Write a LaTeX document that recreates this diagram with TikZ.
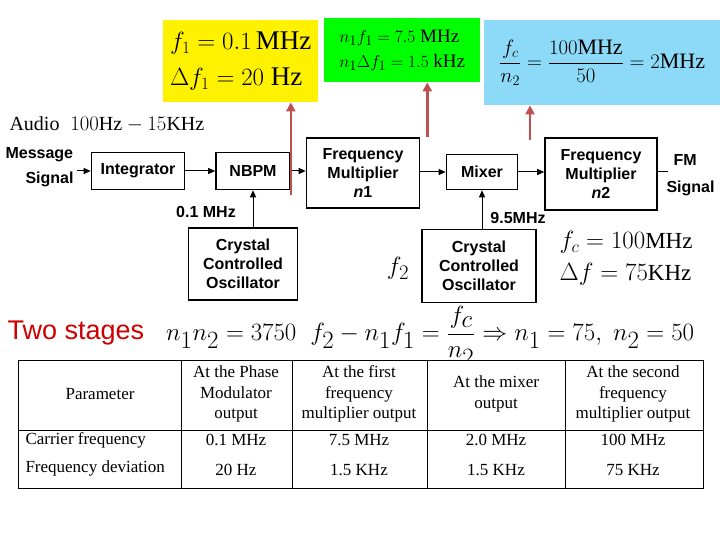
\documentclass[tikz,border=0pt]{standalone}
\usepackage{amsmath}
\usepackage{fontspec}
\newfontfamily\arialfont{Liberation Sans}
\setmainfont{Liberation Serif}
\usetikzlibrary{arrows.meta}
\definecolor{arrowred}{RGB}{190,80,80}
\newcommand{\fsz}[1]{\fontsize{#1}{1.2\dimexpr#1pt\relax}\selectfont}
\tikzset{
  blk/.style={draw, line width=1.6pt, font=\arialfont\bfseries\fsz{16}, align=center, inner sep=2pt},
  sig/.style={-{Triangle[length=7pt,width=6pt]}, line width=1pt},
  lbl/.style={font=\arialfont\bfseries\fsz{16}, align=left},
  up/.style={-{Triangle[length=9pt,width=9pt]}, line width=2.5pt, arrowred},
  cell/.style={font=\fsz{17}, align=center}
}
\begin{document}
\begin{tikzpicture}[x=1pt, y=-1pt]
        \useasboundingbox (0,0) rectangle (720,540);
        % Annotation boxes
        \node[fill=yellow, minimum width=155pt, minimum height=82pt, anchor=north west, align=left, font=\fsz{27}, inner sep=1pt] (Y) at (163,20)
          {$f_1 = 0.1\,\mathrm{MHz}$\\[4pt] $\Delta f_1 = 20\ \mathrm{Hz}$};
        \node[fill=green, minimum width=156pt, minimum height=64pt, anchor=north west, align=left, font=\fsz{19}, inner sep=1pt] (G) at (324,18)
          {$n_1 f_1 = 7.5\ \mathrm{MHz}$\\[2pt] $n_1\Delta f_1 = 1.5\ \mathrm{kHz}$};
        \node[fill=cyan!45, minimum width=236pt, minimum height=85pt, anchor=north west, font=\fsz{22}, inner sep=0pt] (C) at (484,20)
          {$\dfrac{f_c}{n_2} = \dfrac{100\mathrm{MHz}}{50} = 2\mathrm{MHz}$};
        \node[anchor=west, font=\fsz{20}] (AU) at (6,124) {Audio $\;100\mathrm{Hz} - 15\mathrm{KHz}$};

        % Blocks
        \node[lbl, anchor=west] (MS) at (2,167) {Message\\[6pt]\hspace*{20pt}Signal};
        \node[blk, minimum width=93pt, minimum height=37pt] (INT) at (138,171) {Integrator};
        \node[blk, minimum width=74pt, minimum height=37pt] (NB) at (253,171) {NBPM};
        \node[blk, minimum width=113pt, minimum height=70pt] (FM1) at (363,173) {Frequency\\Multiplier\\\itshape n\upshape 1};
        \node[blk, minimum width=71pt, minimum height=35pt] (MX) at (482,172) {Mixer};
        \node[blk, minimum width=112pt, minimum height=72pt] (FM2) at (601,174) {Frequency\\Multiplier\\\itshape n\upshape 2};
        \node[lbl, anchor=west] (FS) at (663,175) {\hspace*{7pt}FM\\[8pt]Signal};
        \node[blk, minimum width=109pt, minimum height=72pt] (XO1) at (243,264) {Crystal\\Controlled\\Oscillator};
        \node[blk, minimum width=114pt, minimum height=73pt] (XO2) at (479,266) {Crystal\\Controlled\\Oscillator};
        \node[lbl] (F01) at (206,212) {0.1 MHz};
        \node[lbl] (F95) at (518,218) {9.5MHz};
        \node[font=\fsz{32}] (F2) at (398,268) {$f_2$};
        \node[anchor=west, font=\fsz{23}, align=left] (FC) at (556,258) {$f_c = 100\mathrm{MHz}$\\[4pt] $\Delta f = 75\mathrm{KHz}$};
        \coordinate (OUT) at (668,172);

        % Signal path
        \draw[sig] (MS.east |- INT.west) -- (INT.west);
        \draw[sig] (INT) -- (NB);
        \draw[sig] (NB) -- (NB -| FM1.west);
        \draw[sig] (FM1.east |- MX) -- (MX);
        \draw[sig] (MX) -- (MX -| FM2.west);
        \draw[line width=1pt] (FM2.east |- MX) -- (OUT);
        \draw[sig] (XO1.north -| NB) -- (NB.south);
        \draw[sig] (XO2.north -| MX) -- (MX.south);

        % Pointers to annotations
        \draw[up] (NB.south east |- 0,195) -- (Y.south -| NB.south east);
        \draw[up] (FM1.north east) ++(7,0) coordinate (P1) -- (P1 |- G.south);
        \draw[up] (530,140) coordinate (P2) -- (P2 |- C.south);

        % Result line
        \node[anchor=west, text=red!80!black, font=\arialfont\fsz{27}] (TS) at (4,333) {Two stages};
        \node[anchor=west, font=\fsz{33}, inner sep=0pt] (EQ) at (166,336)
          {$n_1 n_2 = 3750\;\; f_2 - n_1 f_1 = \dfrac{f_c}{n_2} \Rightarrow n_1 = 75,\; n_2 = 50$};

        % Table
        \fill[white] (18,360) rectangle (703,488);
        \draw[line width=0.8pt] (18,360) rectangle (703,488);
        \draw[line width=0.6pt] (18,430) -- (703,430);
        \foreach \x in {181,292,427,565} \draw[line width=0.6pt] (\x,360) -- (\x,488);
        \node[cell] (H0) at (100,394) {Parameter};
        \node[cell] (H1) at (236,394) {At the Phase\\Modulator\\output};
        \node[cell] (H2) at (359,394) {At the first\\frequency\\multiplier output};
        \node[cell] (H3) at (496,394) {At the mixer\\output};
        \node[cell] (H4) at (633,394) {At the second\\frequency\\multiplier output};
        \node[cell, anchor=west] (R1) at (22,440) {Carrier frequency};
        \node[cell, anchor=west] (R2) at (22,468) {Frequency deviation};
        \foreach \cx/\a/\b in {236/0.1 MHz/20 Hz, 359/7.5 MHz/1.5 KHz, 496/2.0 MHz/1.5 KHz, 633/100 MHz/75 KHz}
          {\node[cell] at (\cx,440) {\a};
           \node[cell] at (\cx,470) {\b};}
\end{tikzpicture}
\end{document}
